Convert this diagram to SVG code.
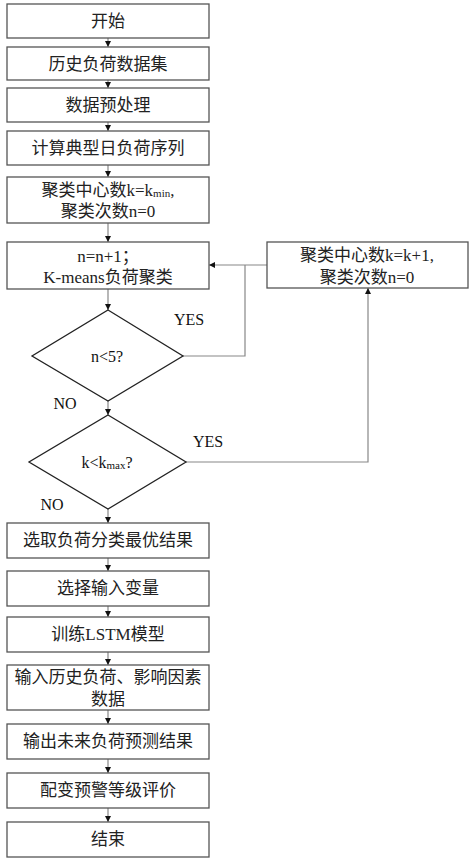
<svg xmlns="http://www.w3.org/2000/svg" width="474" height="863" viewBox="0 0 474 863">
<style>
.box{fill:#fff;stroke:#555;stroke-width:1.3}
.dia{fill:#fff;stroke:#222;stroke-width:1.3}
.t{font-family:"Liberation Serif","Noto Sans CJK SC",serif;font-size:17px;fill:#222;text-anchor:middle;dominant-baseline:central}
.lbl{font-family:"Liberation Serif",serif;font-size:16px;fill:#111;text-anchor:middle;dominant-baseline:central}
.c{fill:none;stroke:#888;stroke-width:1.2}
</style>
<defs>
<marker id="ah" markerUnits="userSpaceOnUse" markerWidth="7" markerHeight="7" refX="6" refY="3" orient="auto">
<path d="M0,0 L6,3 L0,6 z" fill="#111"/>
</marker>
</defs>
<rect width="474" height="863" fill="#fff"/>
<g id="connectors">
<line class="c" x1="108" y1="38" x2="108" y2="47" marker-end="url(#ah)"/>
<line class="c" x1="108" y1="80" x2="108" y2="88" marker-end="url(#ah)"/>
<line class="c" x1="108" y1="122" x2="108" y2="131" marker-end="url(#ah)"/>
<line class="c" x1="108" y1="165" x2="108" y2="177" marker-end="url(#ah)"/>
<line class="c" x1="108" y1="223" x2="108" y2="242" marker-end="url(#ah)"/>
<line class="c" x1="108" y1="289" x2="108" y2="310" marker-end="url(#ah)"/>
<line class="c" x1="108" y1="401" x2="108" y2="415" marker-end="url(#ah)"/>
<line class="c" x1="108" y1="509" x2="108" y2="523" marker-end="url(#ah)"/>
<line class="c" x1="108" y1="558" x2="108" y2="571" marker-end="url(#ah)"/>
<line class="c" x1="108" y1="606" x2="108" y2="617" marker-end="url(#ah)"/>
<line class="c" x1="108" y1="652" x2="108" y2="665" marker-end="url(#ah)"/>
<line class="c" x1="108" y1="710" x2="108" y2="724" marker-end="url(#ah)"/>
<line class="c" x1="108" y1="759" x2="108" y2="773" marker-end="url(#ah)"/>
<line class="c" x1="108" y1="808" x2="108" y2="822" marker-end="url(#ah)"/>
<polyline class="c" points="183,356 245,356 245,265"/>
<line class="c" x1="267" y1="265" x2="209" y2="265" marker-end="url(#ah)"/>
<polyline class="c" points="186,462 368,462 368,288" marker-end="url(#ah)"/>
<text class="lbl" x="189" y="319">YES</text>
<text class="lbl" x="65" y="403">NO</text>
<text class="lbl" x="208" y="441">YES</text>
<text class="lbl" x="52" y="504">NO</text>
</g>
<g id="n1"><rect class="box" x="7" y="4" width="202" height="34"/><text class="t" x="108" y="21">开始</text></g>
<g id="n2"><rect class="box" x="7" y="47" width="202" height="33"/><text class="t" x="108" y="64">历史负荷数据集</text></g>
<g id="n3"><rect class="box" x="7" y="88" width="202" height="34"/><text class="t" x="108" y="105">数据预处理</text></g>
<g id="n4"><rect class="box" x="7" y="131" width="202" height="34"/><text class="t" x="108" y="148">计算典型日负荷序列</text></g>
<g id="n5"><rect class="box" x="7" y="177" width="202" height="46"/>
<text class="t" x="108" y="190">聚类中心数k=k<tspan font-size="11" dy="3">min</tspan><tspan dy="-3">,</tspan></text>
<text class="t" x="108" y="211">聚类次数n=0</text></g>
<g id="n6"><rect class="box" x="7" y="242" width="202" height="47"/>
<text class="t" x="108" y="256">n=n+1；</text>
<text class="t" x="108" y="277">K-means负荷聚类</text></g>
<g id="n7"><rect class="box" x="267" y="242" width="201" height="46"/>
<text class="t" x="367" y="255">聚类中心数k=k+1,</text>
<text class="t" x="367" y="277">聚类次数n=0</text></g>
<g id="d1"><polygon class="dia" points="108,310 183,356 108,401 32,356"/><text class="lbl" x="107" y="356">n&lt;5?</text></g>
<g id="d2"><polygon class="dia" points="108,415 186,462 108,509 29,462"/><text class="lbl" x="107" y="462">k&lt;k<tspan font-size="11" dy="3">max</tspan><tspan dy="-3">?</tspan></text></g>
<g id="n8"><rect class="box" x="7" y="523" width="202" height="35"/><text class="t" x="108" y="540">选取负荷分类最优结果</text></g>
<g id="n9"><rect class="box" x="7" y="571" width="202" height="35"/><text class="t" x="108" y="588">选择输入变量</text></g>
<g id="n10"><rect class="box" x="7" y="617" width="202" height="35"/><text class="t" x="108" y="634">训练LSTM模型</text></g>
<g id="n11"><rect class="box" x="7" y="665" width="202" height="45"/>
<text class="t" x="108" y="677">输入历史负荷、影响因素</text>
<text class="t" x="108" y="699">数据</text></g>
<g id="n12"><rect class="box" x="7" y="724" width="202" height="35"/><text class="t" x="108" y="741">输出未来负荷预测结果</text></g>
<g id="n13"><rect class="box" x="7" y="773" width="202" height="35"/><text class="t" x="108" y="790">配变预警等级评价</text></g>
<g id="n14"><rect class="box" x="7" y="822" width="202" height="35"/><text class="t" x="108" y="839">结束</text></g>
</svg>
